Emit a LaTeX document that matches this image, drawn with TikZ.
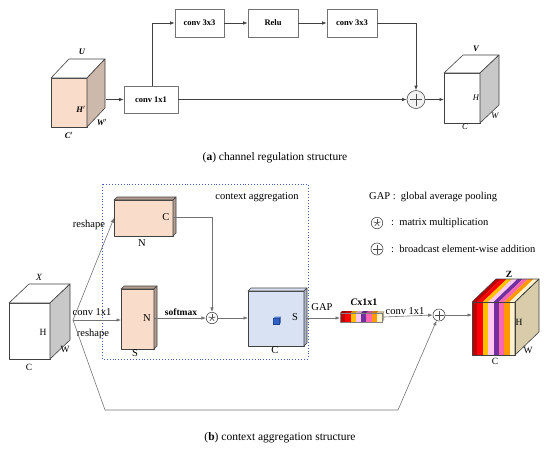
\documentclass[tikz,border=0pt]{standalone}
\usepackage{fontspec}
\setmainfont{Liberation Serif}
\usetikzlibrary{arrows.meta,calc}
\definecolor{peach}{HTML}{F9DCC9}
\definecolor{peachside}{HTML}{CDB8AC}
\definecolor{slabside}{HTML}{B39C90}
\definecolor{grayside}{HTML}{C8C8C8}
\definecolor{bluefront}{HTML}{D9E2F2}
\definecolor{blueside}{HTML}{A9B3C4}
\definecolor{tanside}{HTML}{D9CCAA}
\definecolor{dotblue}{HTML}{3F5FBF}
\definecolor{smallblue}{HTML}{2E62C8}
\definecolor{smallblueside}{HTML}{1F4490}
\definecolor{smallbluetop}{HTML}{5A86DA}
\definecolor{zca}{HTML}{C00000}
\definecolor{zcb}{HTML}{FF0000}
\definecolor{zcc}{HTML}{FFC000}
\definecolor{zcd}{HTML}{FFC8F0}
\definecolor{zce}{HTML}{7030A0}
\definecolor{zcf}{HTML}{FF66B0}
\definecolor{zcg}{HTML}{FF9900}
\definecolor{zch}{HTML}{FFF2CC}
\newcommand{\drawcube}[9]{%
  \filldraw[cubeline,fill=#7] (#1,#2) rectangle (#3,#4);
  \filldraw[cubeline,fill=#9] (#1,#2) -- ++(#5,#6) -- ++({#3-#1},0) -- (#3,#2) -- cycle;
  \filldraw[cubeline,fill=#8] (#3,#2) -- ++(#5,#6) -- ++(0,{#4-#2}) -- (#3,#4) -- cycle;
}
\newcommand{\starspokes}[1]{%
  \foreach \a in {90,162,234,306,18}{\draw[black!70,line width=0.6pt] (#1.center) -- ++(\a:3.6pt);}
}
\begin{document}
\begin{tikzpicture}[x=1pt,y=-1pt,
  cubeline/.style={draw=black!75,line width=0.6pt,line join=round},
  opbox/.style={draw=black!55,fill=white,line width=0.7pt,inner sep=0,
    font=\bfseries\fontsize{8.5}{10}\selectfont},
  darr/.style={draw=black!75,line width=0.8pt,-{Latex[length=4.5pt,width=3.5pt]}},
  garr/.style={draw=black!55,line width=0.6pt,-{Latex[length=4.5pt,width=3.5pt]}},
  lbl/.style={inner sep=0,font=\fontsize{10.5}{12}\selectfont},
  slbl/.style={inner sep=0,font=\fontsize{9.5}{11}\selectfont},
  tlbl/.style={inner sep=0,font=\bfseries\itshape\fontsize{8.5}{10}\selectfont},
  tilbl/.style={inner sep=0,font=\itshape\fontsize{8.5}{10}\selectfont},
  caption/.style={inner sep=0,font=\fontsize{11.5}{13}\selectfont},
  plusc/.style={circle,draw=black!70,line width=0.6pt,inner sep=0,
    path picture={\draw[black!70,line width=0.6pt]
      ([yshift=#1]path picture bounding box.center) -- ([yshift=-#1]path picture bounding box.center)
      ([xshift=#1]path picture bounding box.center) -- ([xshift=-#1]path picture bounding box.center);}},
  starc/.style={circle,draw=black!70,line width=0.6pt,inner sep=0,minimum size=11.5pt}
]
\useasboundingbox (0,0) rectangle (550,451);

%% ---------------- (a) ----------------
\drawcube{51}{78}{87}{127}{18}{-19}{peach}{peachside}{white}
\node[tlbl] (lU) at (82,52) {U};
\node[tlbl] (lHp) at (81,109) {H$'$};
\node[tlbl] (lWp) at (102,122) {W$'$};
\node[tlbl] (lCp) at (69,135) {C$'$};
\coordinate (Uout) at (106,99.5);

\node[opbox,minimum width=54pt,minimum height=27pt] (c11) at (151,99.5) {conv 1x1};
\node[opbox,minimum width=49pt,minimum height=28pt] (c33a) at (199.5,23) {conv 3x3};
\node[opbox,minimum width=50pt,minimum height=28pt] (relu) at (273,23) {Relu};
\node[opbox,minimum width=50pt,minimum height=28pt] (c33b) at (352,23) {conv 3x3};
\node[plusc=6pt,minimum size=18pt,fill=black!5] (pa) at (416,99.5) {};

\drawcube{444}{73}{480}{123}{19}{-18}{white}{grayside}{white}
\node[tlbl] (lV) at (476,49) {V};
\node[tilbl] (lH) at (476,98) {H};
\node[tilbl] (lW) at (495,116) {W};
\node[tilbl] (lC) at (465,127) {C};
\coordinate (Vin) at (444,99.5);

\draw[darr] (Uout) -- (c11.west);
\draw[darr] (c11.north -| 152,0) |- (c33a.west);
\draw[darr] (c33a.east) -- (relu.west);
\draw[darr] (relu.east) -- (c33b.west);
\draw[darr] (c33b.east) -| (pa.north);
\draw[darr] (c11.east) -- (pa.west);
\draw[darr] (pa.east) -- (Vin);

\node[caption] (capa) at (275,158) {(\textbf{a}) channel regulation structure};

%% ---------------- (b) ----------------
\draw[dotblue,dotted,line width=0.9pt] (102,184) rectangle (308,359);
\node[lbl] (ctx) at (257,197) {context aggregation};

% X cube
\drawcube{9}{303}{50}{359}{20}{-19}{white}{grayside}{white}
\node[inner sep=0,font=\itshape\fontsize{9.5}{11}\selectfont] (lX) at (39,277) {X};
\node[slbl] (lXH) at (43,332) {H};
\node[slbl] (lXW) at (65,349) {W};
\node[slbl] (lXC) at (29,367) {C};
\coordinate (fork) at (73,320);

% slab C x N
\drawcube{114}{200}{173}{236}{3}{-3}{peach}{slabside}{slabside}
\node[lbl] (l1C) at (166,217) {C};
\node[lbl] (l1N) at (142,243) {N};
\coordinate (s1in) at (114,218);
\coordinate (s1out) at (173,217);

% slab S x N
\drawcube{121}{289}{154}{349}{3}{-3}{peach}{slabside}{slabside}
\node[lbl] (l2N) at (147,318) {N};
\node[lbl] (l2S) at (135,353) {S};
\coordinate (s2in) at (121,320);
\coordinate (s2out) at (154,318);

% star
\node[starc] (st) at (212,318) {};
\starspokes{st}
\node[inner sep=0,font=\bfseries\fontsize{9.5}{11}\selectfont] (lsm) at (181,312) {softmax};

% blue box
\drawcube{248}{291}{304}{346}{3}{-3}{bluefront}{blueside}{bluefront}
\filldraw[draw=smallblueside,line width=0.3pt,fill=smallblue] (273.5,318) rectangle (279,324.5);
\fill[smallbluetop] (273.5,318) -- ++(1.5,-1.5) -- ++(5.5,0) -- (279,318) -- cycle;
\fill[smallblueside] (279,318) -- ++(1.5,-1.5) -- ++(0,6.5) -- (279,324.5) -- cycle;
\node[lbl] (l3S) at (295,317) {S};
\node[lbl] (l3C) at (275,350) {C};
\coordinate (bin) at (248,318);
\coordinate (bout) at (306,318);

% bar Cx1x1
\foreach \c [count=\i from 0] in {zca,zcb,zcc,zcd,zce,zcf,zcg,zch}{
  \fill[\c] ({340+\i*5.25},313) rectangle ++(5.25,9);
  \fill[\c!80!black] ({340+\i*5.25},313) -- ++(2,-2) -- ++(5.25,0) -- ++(-2,2) -- cycle;
}
\fill[zch!70!black] (382,313) -- ++(2,-2) -- ++(0,9) -- ++(-2,2) -- cycle;
\draw[black!50,line width=0.3pt] (340,313) rectangle (382,322);
\node[inner sep=0,font=\bfseries\fontsize{10}{12}\selectfont] (lbar) at (364,302) {\textit{C}x1x1};
\coordinate (barin) at (340,318);
\coordinate (barout) at (384,317);
\node[lbl] (lgap) at (322,307) {GAP};

% plus
\node[plusc=4.5pt,minimum size=12pt] (pb) at (439,315) {};
\node[lbl] (lconv) at (405,311) {conv 1x1};

% Z cube
\foreach \c [count=\i from 0] in {zca,zcb,zcc,zcd,zce,zcf,zcg,zch}{
  \fill[\c] ({472+\i*5.375},302) rectangle ++(5.375,53);
  \fill[\c] ({472+\i*5.375},302) -- ++(24,-23) -- ++(5.375,0) -- ++(-24,23) -- cycle;
}
\filldraw[cubeline,fill=tanside] (515,302) -- ++(24,-23) -- ++(0,53) -- (515,355) -- cycle;
\draw[cubeline] (472,302) rectangle (515,355);
\draw[cubeline] (472,302) -- ++(24,-23) -- ++(43,0) -- (515,302);
\node[inner sep=0,font=\bfseries\fontsize{9.5}{11}\selectfont] (lZ) at (509,274) {Z};
\node[slbl] (lZH) at (519,322) {H};
\node[slbl] (lZW) at (528,350) {W};
\node[slbl] (lZC) at (495,361) {C};
\coordinate (Zin) at (472,315);

% connectors
\draw[garr] (fork) -- (s1in);
\node[lbl] (lrs1) at (89,225) {reshape};
\draw[garr] (fork) -- (s2in);
\node[lbl] (lconvx) at (92,312) {conv 1x1};
\node[lbl] (lrs2) at (93,334) {reshape};
\draw[garr] (s1out) -| (st.north);
\draw[garr] (s2out) -- (st.west);
\draw[garr] (st.east) -- (bin);
\draw[garr] (bout) -- (barin);
\draw[garr] (barout) -- (pb.west);
\draw[garr] (pb.east) -- (Zin);
\coordinate (lowL) at (105,410);
\coordinate (lowR) at (398,410);
\draw[garr] (fork) -- (lowL) -- (lowR) -- (pb);

% legend
\node[lbl,anchor=west] (lg1) at (369,197) {GAP :\ \ global average pooling};
\node[starc] (lgs) at (377,223) {};
\starspokes{lgs}
\node[lbl,anchor=west] (lg2) at (391,223) {:\ \ matrix multiplication};
\node[plusc=4.5pt,minimum size=12pt] (lgp) at (377,249) {};
\node[lbl,anchor=west] (lg3) at (391,249) {:\ \ broadcast element-wise addition};

\node[caption] (capb) at (280,438) {(\textbf{b}) context aggregation structure};
\end{tikzpicture}
\end{document}
